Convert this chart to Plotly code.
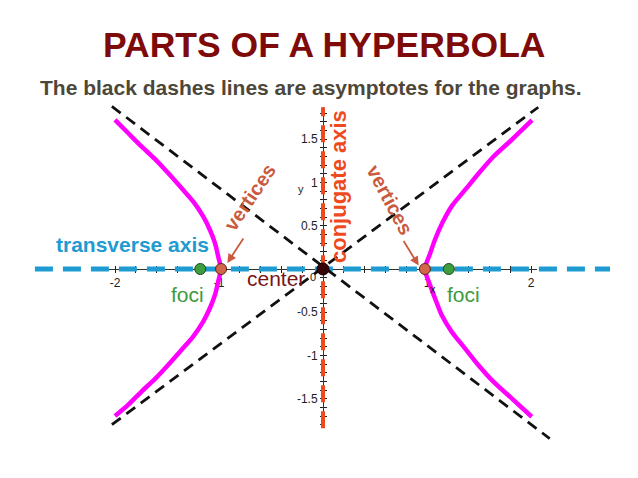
import plotly.graph_objects as go

# ---------------- data ----------------
left_branch_x = [-2.0, -1.872, -1.743, -1.615, -1.487, -1.359, -1.247, -1.151, -1.087,
                 -1.038, -1.007, -0.984, -0.98, -1.007, -1.038, -1.087, -1.151, -1.247,
                 -1.359, -1.487, -1.615, -1.743, -1.872, -2.0]
left_branch_y = [1.723, 1.569, 1.414, 1.270, 1.106, 0.933, 0.778, 0.605, 0.451,
                 0.297, 0.142, 0.027, 0.0, -0.142, -0.297, -0.451, -0.605, -0.778,
                 -0.933, -1.106, -1.270, -1.414, -1.569, -1.70]
right_branch_x = [2.01, 1.82, 1.64, 1.50, 1.37, 1.24, 1.15, 1.08, 1.03, 0.98,
                  1.029, 1.077, 1.141, 1.237, 1.365, 1.493, 1.638, 1.814, 2.007]
right_branch_y = [1.72, 1.50, 1.30, 1.11, 0.92, 0.73, 0.54, 0.35, 0.18, 0.0,
                  -0.185, -0.339, -0.532, -0.725, -0.917, -1.110, -1.303, -1.495, -1.708]

asym1_x = [-2.03, 2.18]
asym1_y = [1.88, -1.96]
asym2_x = [-2.03, 2.07]
asym2_y = [-1.80, 1.87]

transverse_x = [-2.77, 2.76]
transverse_y = [0, 0]
conjugate_x = [0, 0]
conjugate_y = [-1.84, 1.87]

vertices_x = [-0.98, 0.98]
vertices_y = [0, 0]
foci_x = [-1.18, 1.21]
foci_y = [0, 0]
center_x = [0]
center_y = [0]

x_tickvals = [-2, -1, 1, 2]
x_ticktext = ["-2", "-1", "1", "2"]
y_tickvals = [-1.5, -1, -0.5, 0.5, 1, 1.5]
y_ticktext = ["-1.5", "-1", "-0.5", "0.5", "1", "1.5"]

# ---------------- geometry ----------------
OFF = 8                    # page body margin
W, H = 638 - 2 * OFF, 478 - 2 * OFF
OX, OY = 323 - OFF, 269 - OFF   # pixel position of origin inside the figure
SX, SY = 104, 86.5              # pixels per unit

FONT = "Liberation Sans, Arial, sans-serif"


def fx(xp):
    return (xp - OFF) / W


def fy(yp):
    return (H - (yp - OFF)) / H


def px(xp):
    return (xp - OFF - OX) / SX


def py(yp):
    return (OY - (yp - OFF)) / SY


fig = go.Figure()

# dummy traces so the visible axes exist
for xa, ya in [("x", "y"), ("x3", "y3")]:
    fig.add_trace(go.Scatter(x=[None], y=[None], xaxis=xa, yaxis=ya,
                             showlegend=False, hoverinfo="skip"))

common = dict(xaxis="x2", yaxis="y2", showlegend=False, hoverinfo="skip")

# transverse axis (blue dashed)
fig.add_trace(go.Scatter(x=transverse_x, y=transverse_y, mode="lines",
                         line=dict(color="#1F9BD1", width=5, dash="18px,10px"), **common))
# conjugate axis (orange dashed)
fig.add_trace(go.Scatter(x=conjugate_x, y=conjugate_y, mode="lines",
                         line=dict(color="#EF4A1E", width=4, dash="17px,9px"), **common))
# asymptotes
for ax_, ay_ in [(asym1_x, asym1_y), (asym2_x, asym2_y)]:
    fig.add_trace(go.Scatter(x=ax_, y=ay_, mode="lines",
                             line=dict(color="#111111", width=2.8, dash="11px,7px"), **common))
# hyperbola branches
for bx, by in [(left_branch_x, left_branch_y), (right_branch_x, right_branch_y)]:
    fig.add_trace(go.Scatter(x=bx, y=by, mode="lines",
                             line=dict(color="#FF00FF", width=4.5, shape="spline", smoothing=0.8),
                             **common))
# points
fig.add_trace(go.Scatter(x=foci_x, y=foci_y, mode="markers",
                         marker=dict(size=11, color="#3E9E3E", line=dict(color="#1E4A1E", width=1)),
                         **common))
fig.add_trace(go.Scatter(x=vertices_x, y=vertices_y, mode="markers",
                         marker=dict(size=11, color="#D2664B", line=dict(color="#5A2418", width=1)),
                         **common))
fig.add_trace(go.Scatter(x=center_x, y=center_y, mode="markers",
                         marker=dict(size=12, color="#3A0505", line=dict(color="#1A0000", width=1)),
                         **common))

# ---------------- axes ----------------
x_l, x_r = 106, 537      # reference pixels
y_t, y_b = 107, 425
xdom = [fx(x_l), fx(x_r)]
xrng = [px(x_l), px(x_r)]
ydom = [fy(y_b), fy(y_t)]
yrng = [py(y_b), py(y_t)]
xpos = fy(269)
ypos = fx(323)

tickfont = dict(family=FONT, size=12, color="#222222")

xa_common = dict(domain=xdom, range=xrng, anchor="free", position=xpos,
                 showgrid=False, zeroline=False, showline=True, linecolor="#333333",
                 linewidth=1, tickvals=x_tickvals, ticktext=x_ticktext,
                 ticklen=3, tickcolor="#222222", fixedrange=True, layer="below traces")
ya_common = dict(domain=ydom, range=yrng, anchor="free", position=ypos,
                 showgrid=False, zeroline=False, showline=True, linecolor="#333333",
                 linewidth=1, tickvals=y_tickvals, ticktext=y_ticktext,
                 ticklen=3, tickcolor="#222222", fixedrange=True, layer="below traces")

fig.update_layout(
    width=W, height=H,
    margin=dict(l=0, r=0, t=0, b=0),
    paper_bgcolor="white", plot_bgcolor="rgba(0,0,0,0)",
    xaxis=dict(**xa_common, ticks="outside", tickfont=tickfont,
               minor=dict(dtick=0.2, tick0=0, ticks="outside", ticklen=3, tickcolor="#222222")),
    yaxis=dict(**ya_common, ticks="outside", tickfont=tickfont,
               minor=dict(dtick=0.1, tick0=0, ticks="outside", ticklen=3, tickcolor="#222222")),
    xaxis3=dict(**xa_common, overlaying="x", ticks="inside", showticklabels=False,
                minor=dict(dtick=0.2, tick0=0, ticks="inside", ticklen=3, tickcolor="#222222")),
    yaxis3=dict(**ya_common, overlaying="y", ticks="inside", showticklabels=False,
                minor=dict(dtick=0.1, tick0=0, ticks="inside", ticklen=3, tickcolor="#222222")),
    xaxis2=dict(domain=[0, 1], range=[-OX / SX, (W - OX) / SX], visible=False,
                fixedrange=True, anchor="y2"),
    yaxis2=dict(domain=[0, 1], range=[(OY - H) / SY, OY / SY], visible=False,
                fixedrange=True, anchor="x2"),
    showlegend=False,
)

ann = []
# title + subtitle
ann.append(dict(text="<b>PARTS OF A HYPERBOLA</b>", xref="paper", yref="paper",
                x=fx(324), y=fy(45), showarrow=False, xanchor="center", yanchor="middle",
                font=dict(family=FONT, size=35.5, color="#7E0A0A")))
ann.append(dict(text="<b>The black dashes lines are asymptotes for the graphs.</b>",
                xref="paper", yref="paper", x=fx(311), y=fy(87), showarrow=False,
                xanchor="center", yanchor="middle",
                font=dict(family=FONT, size=21, color="#4D473A")))


def lab(text, xp, yp, color, size=20, angle=0, bold=False):
    t = f"<b>{text}</b>" if bold else text
    ann.append(dict(text=t, xref="x2", yref="y2", x=px(xp), y=py(yp), showarrow=False,
                    xanchor="center", yanchor="middle", textangle=angle,
                    font=dict(family=FONT, size=size, color=color)))


lab("transverse axis", 132, 244, "#1F9BD1", size=21, bold=True)
lab("conjugate axis", 338, 187, "#EF4A1E", size=22, angle=-90, bold=True)
lab("vertices", 250, 197, "#C95A3E", size=20, angle=-56, bold=True)
lab("vertices", 390, 200, "#C95A3E", size=20, angle=62, bold=True)
lab("foci", 187, 294, "#3E9A3E", size=21)
lab("foci", 463, 294, "#3E9A3E", size=21)
lab("center", 276, 278, "#7A1515", size=21)
lab("y", 301, 189, "#222222", size=11)
lab("x", 433, 289, "#222222", size=11)
lab("0", 313, 277, "#222222", size=11)

# arrows from "vertices" to the vertex dots
ann.append(dict(text="", xref="x2", yref="y2", x=vertices_x[0] + 0.06, y=vertices_y[0] + 0.07,
                ax=17, ay=-26, showarrow=True, arrowhead=2, arrowsize=1, arrowwidth=1.8,
                arrowcolor="#C95A3E"))
ann.append(dict(text="", xref="x2", yref="y2", x=vertices_x[1] - 0.06, y=vertices_y[1] + 0.04,
                ax=-16, ay=-26, showarrow=True, arrowhead=2, arrowsize=1, arrowwidth=1.8,
                arrowcolor="#C95A3E"))

fig.update_layout(annotations=ann)

fig.write_html("out.html")
